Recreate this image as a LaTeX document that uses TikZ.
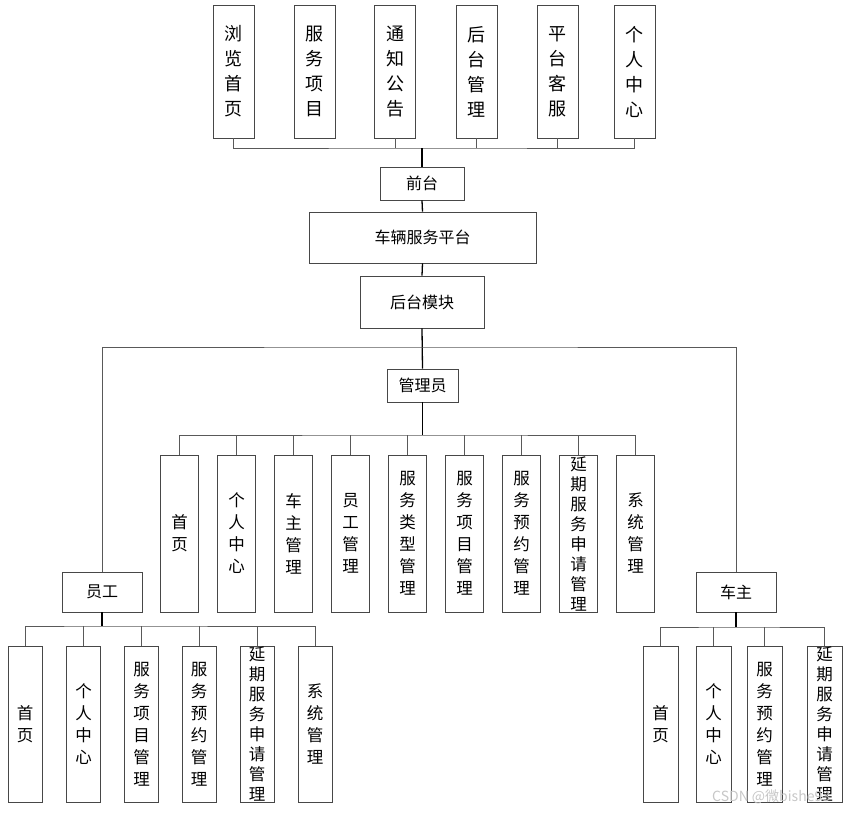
\documentclass[tikz,border=0pt]{standalone}
\usepackage{fontspec}
\setmainfont{Noto Sans CJK SC}
\begin{document}
\begin{tikzpicture}[x=1pt,y=-1pt,
  box/.style={draw=black!72, line width=0.9pt, inner sep=0pt, align=center, fill=white,
    font=\fontsize{16.5}{22}\selectfont},
  hbox/.style={box, font=\fontsize{16}{20}\selectfont},
  tbox/.style={box, minimum width=41pt, minimum height=133pt, font=\fontsize{18}{25}\selectfont},
  abox/.style={box, minimum width=37.5pt, minimum height=157pt},
  ebox/.style={box, minimum width=34pt, minimum height=156pt},
  cbox/.style={box, minimum width=35pt, minimum height=156pt},
  tight/.style={font=\fontsize{16.5}{20}\selectfont},
  conn/.style={draw=black!65, line width=1pt},
  trunk/.style={draw=black, line width=1.3pt}]
\useasboundingbox (0,0) rectangle (852,814);
% top row
\node[tbox] (t1) at (233.5,71.5) {浏\\览\\首\\页};
\node[tbox] (t2) at (314.5,71.5) {服\\务\\项\\目};
\node[tbox] (t3) at (395,71.5) {通\\知\\公\\告};
\node[tbox] (t4) at (476.5,71.5) {后\\台\\管\\理};
\node[tbox] (t5) at (557.5,71.5) {平\\台\\客\\服};
\node[tbox] (t6) at (634.5,71.5) {个\\人\\中\\心};
% main chain
\node[hbox, minimum width=84pt, minimum height=33pt] (qt) at (422,183.5) {前台};
\node[hbox, minimum width=227pt, minimum height=51pt] (pt) at (422.5,237.5) {车辆服务平台};
\node[hbox, minimum width=124pt, minimum height=52pt] (ht) at (422,302) {后台模块};
\node[hbox, minimum width=71pt, minimum height=33pt] (gl) at (422.5,385.5) {管理员};
\node[hbox, minimum width=80pt, minimum height=40pt] (yg) at (102,592) {员工};
\node[hbox, minimum width=80pt, minimum height=40pt] (cz) at (736,592) {车主};
% admin children
\node[abox] (a1) at (179.5,533.5) {首\\页};
\node[abox] (a2) at (236.5,533.5) {个\\人\\中\\心};
\node[abox] (a3) at (293.5,533.5) {车\\主\\管\\理};
\node[abox] (a4) at (350.5,533.5) {员\\工\\管\\理};
\node[abox] (a5) at (407.5,533.5) {服\\务\\类\\型\\管\\理};
\node[abox] (a6) at (464.5,533.5) {服\\务\\项\\目\\管\\理};
\node[abox] (a7) at (521.5,533.5) {服\\务\\预\\约\\管\\理};
\node[abox, tight] (a8) at (578.5,533.5) {延\\期\\服\\务\\申\\请\\管\\理};
\node[abox] (a9) at (635.5,533.5) {系\\统\\管\\理};
% staff children
\node[ebox] (e1) at (25,724) {首\\页};
\node[ebox] (e2) at (83.5,724) {个\\人\\中\\心};
\node[ebox] (e3) at (141.5,724) {服\\务\\项\\目\\管\\理};
\node[ebox] (e4) at (199,724) {服\\务\\预\\约\\管\\理};
\node[ebox, tight] (e5) at (257,724) {延\\期\\服\\务\\申\\请\\管\\理};
\node[ebox] (e6) at (315,724) {系\\统\\管\\理};
% owner children
\node[cbox] (c1) at (660.5,724) {首\\页};
\node[cbox] (c2) at (713.5,724) {个\\人\\中\\心};
\node[cbox] (c3) at (764.5,724) {服\\务\\预\\约\\管\\理};
\node[cbox, tight] (c4) at (824.5,724) {延\\期\\服\\务\\申\\请\\管\\理};
% bus coordinates
\coordinate (tb) at (422,148);
\coordinate (split) at (422.5,347);
\coordinate (ab) at (422.5,435);
\coordinate (eb) at (102,626);
\coordinate (cb) at (736,627);
% top bus
\draw[conn] (t1.south) |- (tb) -| (t6.south);
\foreach \n in {t3,t4,t5} \draw[conn] (\n.south) -- (\n.south |- tb);
\draw[trunk] (tb) -- (qt.north);
\draw[trunk] (qt.south) -- (pt.north);
\draw[trunk] (pt.south) -- (ht.north);
\draw[trunk] (ht.south) -- (gl.north);
\draw[conn] (yg.north) |- (split) -| (cz.north);
% admin bus
\draw[conn] (a1.north) |- (ab) -| (a9.north);
\foreach \n in {a2,a3,a4,a5,a6,a7,a8} \draw[conn] (\n.north) -- (\n.north |- ab);
\draw[trunk] (gl.south) -- (ab);
% staff bus
\draw[conn] (e1.north) |- (eb) -| (e6.north);
\foreach \n in {e2,e3,e4,e5} \draw[conn] (\n.north) -- (\n.north |- eb);
\draw[trunk] (yg.south) -- (eb);
% owner bus
\draw[conn] (c1.north) |- (cb) -| (c4.north);
\foreach \n in {c2,c3} \draw[conn] (\n.north) -- (\n.north |- cb);
\draw[trunk] (cz.south) -- (cb);
% watermark
\node[anchor=west, text=black!22, font=\fontsize{14}{16}\selectfont, inner sep=0pt] (wm) at (712,797) {CSDN @微bishe93};
\end{tikzpicture}
\end{document}
